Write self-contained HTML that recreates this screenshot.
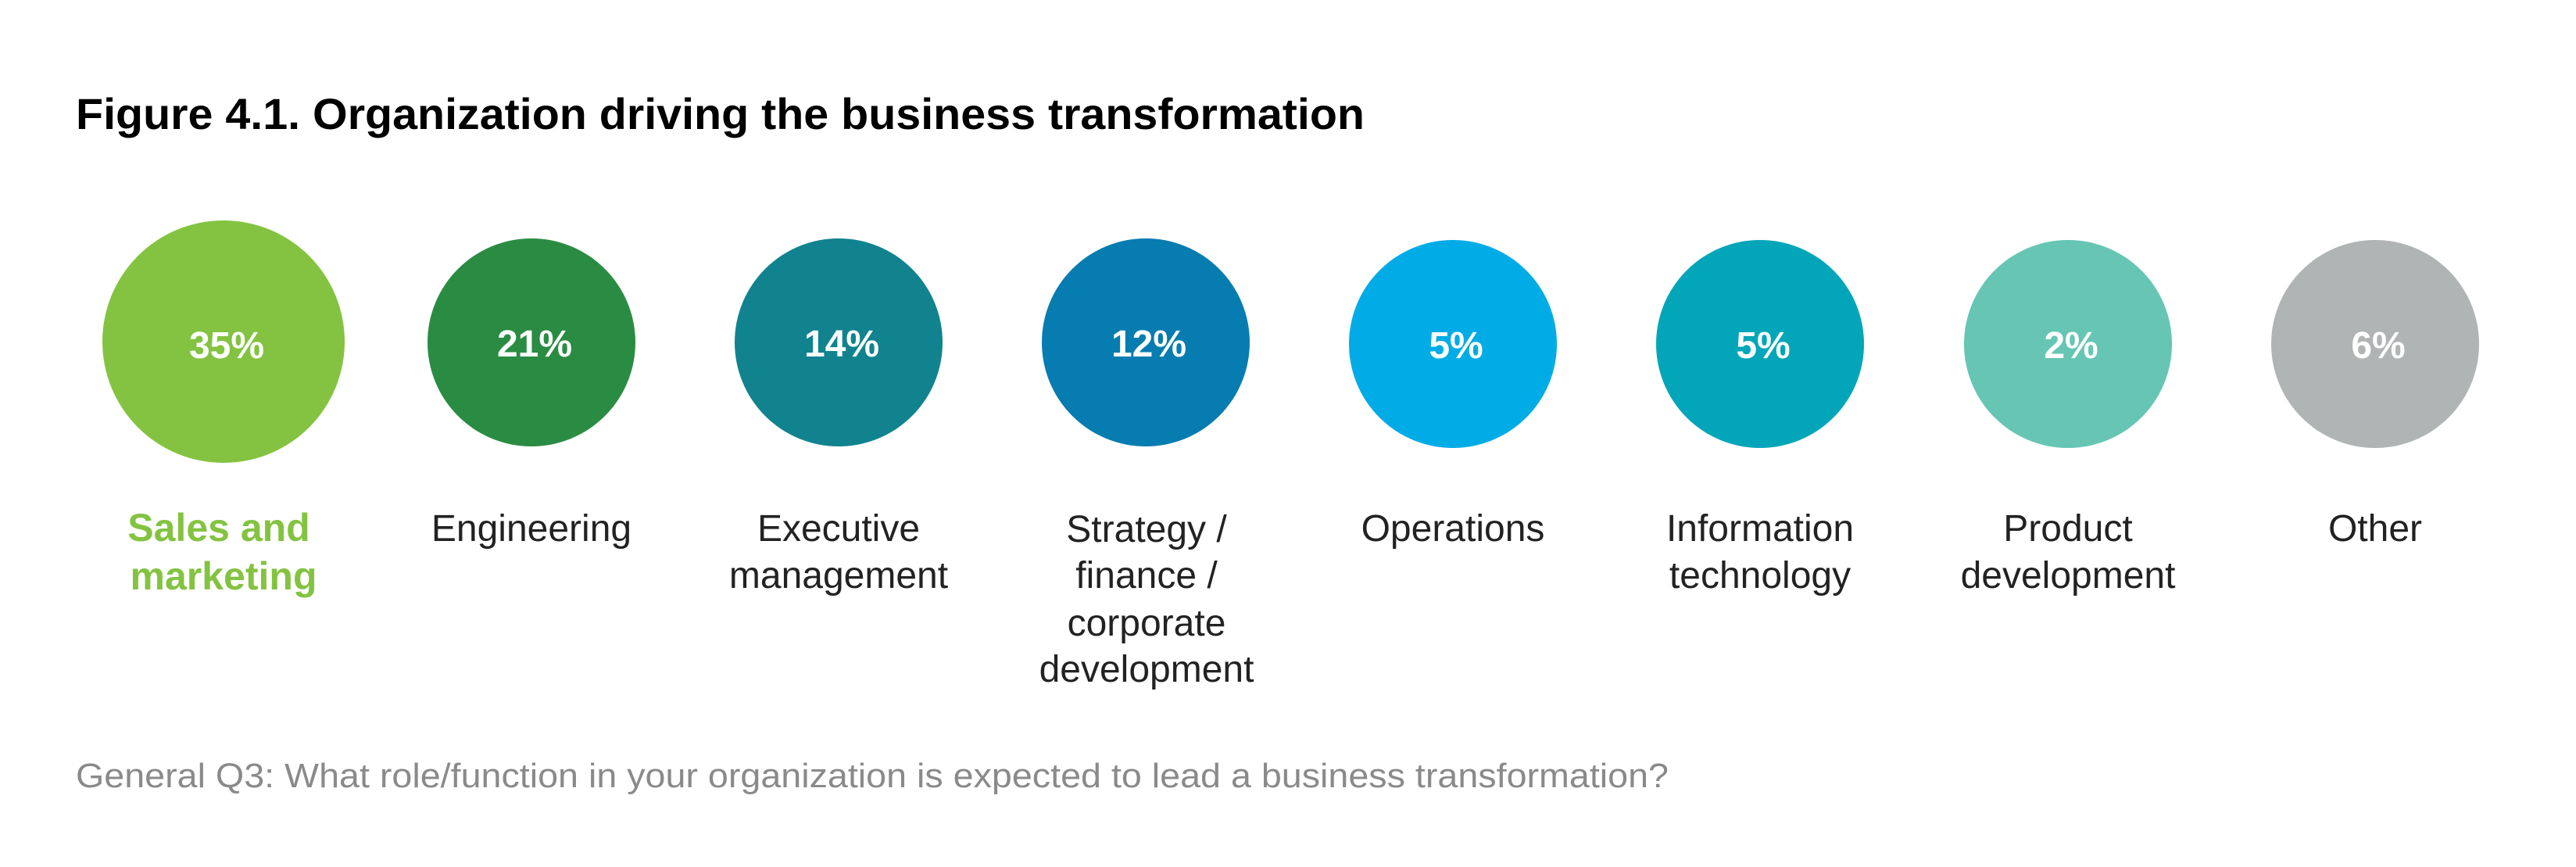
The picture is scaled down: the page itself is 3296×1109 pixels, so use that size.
<!DOCTYPE html>
<html><head><meta charset="utf-8"><style>
html,body{margin:0;padding:0;background:#fff;}
svg{display:block;}
</style></head><body>
<svg width="3296" height="1109" viewBox="0 0 3296 1109" xmlns="http://www.w3.org/2000/svg" font-family="Liberation Sans, sans-serif">
<rect width="3296" height="1109" fill="#fff"/>
<text x="97" y="165" font-size="56" font-weight="bold" fill="#000" textLength="1649" lengthAdjust="spacingAndGlyphs">Figure 4.1. Organization driving the business transformation</text>
<circle cx="286" cy="437" r="155" fill="#84c341"/>
<circle cx="680" cy="438" r="133" fill="#2a8c43"/>
<circle cx="1073" cy="438" r="133" fill="#10838e"/>
<circle cx="1466" cy="438" r="133" fill="#077cb0"/>
<circle cx="1859" cy="440" r="133" fill="#01ace6"/>
<circle cx="2252" cy="440" r="133" fill="#02a6b8"/>
<circle cx="2646" cy="440" r="133" fill="#66c6b3"/>
<circle cx="3039" cy="440" r="133" fill="#b1b4b4"/>
<g font-size="48" font-weight="bold" fill="#fff" text-anchor="middle">
<text x="290" y="458">35%</text>
<text x="684" y="456">21%</text>
<text x="1077" y="456">14%</text>
<text x="1470" y="456">12%</text>
<text x="1863" y="458">5%</text>
<text x="2256" y="458">5%</text>
<text x="2650" y="458">2%</text>
<text x="3043" y="458">6%</text>
</g>
<g font-size="50" font-weight="bold" fill="#84c341" text-anchor="middle">
<text x="280" y="692">Sales and</text>
<text x="286" y="754">marketing</text>
</g>
<g font-size="48" fill="#222" text-anchor="middle">
<text x="680" y="692">Engineering</text>
<text x="1073" y="692">Executive</text>
<text x="1073" y="752">management</text>
<text x="1467" y="693">Strategy /</text>
<text x="1467" y="752">finance /</text>
<text x="1467" y="813">corporate</text>
<text x="1467" y="872">development</text>
<text x="1859" y="692">Operations</text>
<text x="2252" y="692">Information</text>
<text x="2252" y="752">technology</text>
<text x="2646" y="692">Product</text>
<text x="2646" y="752">development</text>
<text x="3039" y="692">Other</text>
</g>
<text x="97" y="1007" font-size="44" fill="#8a8a8a" textLength="2038" lengthAdjust="spacingAndGlyphs">General Q3: What role/function in your organization is expected to lead a business transformation?</text>
</svg>
</body></html>
